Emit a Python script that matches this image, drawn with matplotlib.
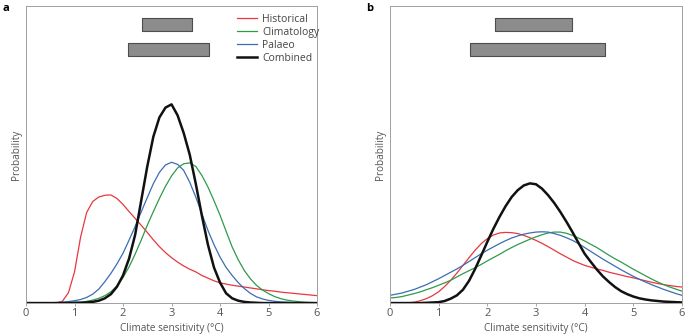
import matplotlib
matplotlib.use("Agg")
import matplotlib.pyplot as plt

plt.rcParams["font.family"] = ["Open Sans", "DejaVu Sans"]

# climate sensitivity grid (degC), 0 to 6 in steps of 1/8
sens = [i / 8 for i in range(49)]

# panel a: probability densities
hist_a = [0, 0, 0, 0, 0, 0, 0.006, 0.035, 0.105, 0.222, 0.305, 0.342, 0.357, 0.363, 0.364, 0.352,
          0.332, 0.308, 0.285, 0.262, 0.238, 0.213, 0.19, 0.17, 0.153, 0.138, 0.125, 0.114,
          0.105, 0.093, 0.084, 0.075, 0.068, 0.064, 0.06, 0.057, 0.054, 0.051, 0.048, 0.045,
          0.042, 0.04, 0.037, 0.035, 0.033, 0.031, 0.029, 0.027, 0.025]
clim_a = [0, 0, 0, 0, 0, 0, 0.001, 0.001, 0.002, 0.003, 0.006, 0.01, 0.016, 0.025, 0.038, 0.058,
          0.086, 0.122, 0.165, 0.212, 0.262, 0.308, 0.352, 0.393, 0.428, 0.455, 0.469, 0.472,
          0.46, 0.43, 0.391, 0.345, 0.296, 0.242, 0.189, 0.146, 0.11, 0.082, 0.06, 0.044,
          0.032, 0.022, 0.015, 0.01, 0.007, 0.005, 0.003, 0.002, 0.001]
palaeo_a = [0, 0, 0, 0, 0.001, 0.002, 0.003, 0.005, 0.008, 0.012, 0.019, 0.03, 0.047, 0.072,
            0.1, 0.132, 0.168, 0.212, 0.258, 0.307, 0.355, 0.402, 0.44, 0.465, 0.474, 0.467,
            0.447, 0.407, 0.357, 0.301, 0.245, 0.197, 0.155, 0.12, 0.093, 0.069, 0.049, 0.033,
            0.021, 0.014, 0.009, 0.006, 0.004, 0.003, 0.002, 0.001, 0.001, 0, 0]
comb_a = [0, 0, 0, 0, 0, 0, 0, 0, 0.001, 0.001, 0.002, 0.004, 0.008, 0.016, 0.03, 0.055,
          0.093, 0.15, 0.23, 0.345, 0.46, 0.56, 0.625, 0.658, 0.669, 0.632, 0.573, 0.5,
          0.402, 0.295, 0.197, 0.12, 0.069, 0.033, 0.016, 0.008, 0.004, 0.002, 0.001, 0,
          0, 0, 0, 0, 0, 0, 0, 0, 0]

# panel b
hist_b = [0, 0, 0, 0.001, 0.003, 0.008, 0.015, 0.025, 0.038, 0.056, 0.077, 0.101, 0.127, 0.153,
          0.178, 0.2, 0.217, 0.229, 0.236, 0.238, 0.237, 0.234, 0.228, 0.22, 0.211, 0.201,
          0.19, 0.178, 0.166, 0.155, 0.144, 0.135, 0.127, 0.121, 0.115, 0.11, 0.104, 0.099,
          0.094, 0.089, 0.085, 0.08, 0.075, 0.07, 0.066, 0.062, 0.059, 0.056, 0.054]
clim_b = [0.017, 0.019, 0.022, 0.027, 0.032, 0.038, 0.045, 0.052, 0.06, 0.068, 0.077, 0.088,
          0.099, 0.109, 0.119, 0.13, 0.142, 0.153, 0.164, 0.176, 0.187, 0.197, 0.206, 0.215,
          0.223, 0.23, 0.236, 0.239, 0.239, 0.235, 0.228, 0.219, 0.209, 0.198, 0.187, 0.174,
          0.161, 0.149, 0.138, 0.126, 0.114, 0.103, 0.092, 0.081, 0.071, 0.062, 0.054, 0.047,
          0.04]
palaeo_b = [0.026, 0.03, 0.034, 0.04, 0.046, 0.054, 0.062, 0.072, 0.082, 0.093, 0.104, 0.115,
            0.127, 0.14, 0.153, 0.166, 0.178, 0.189, 0.2, 0.21, 0.219, 0.226, 0.232, 0.236,
            0.239, 0.24, 0.239, 0.234, 0.228, 0.22, 0.211, 0.2, 0.187, 0.174, 0.161, 0.148,
            0.136, 0.124, 0.112, 0.101, 0.09, 0.08, 0.071, 0.062, 0.054, 0.046, 0.039, 0.032,
            0.026]
comb_b = [0, 0, 0, 0, 0, 0, 0.001, 0.002, 0.003, 0.007, 0.015, 0.026, 0.045, 0.075, 0.115,
          0.16, 0.206, 0.25, 0.29, 0.326, 0.357, 0.38, 0.396, 0.403, 0.4, 0.385, 0.363, 0.337,
          0.307, 0.274, 0.239, 0.202, 0.166, 0.139, 0.113, 0.09, 0.071, 0.054, 0.04, 0.03,
          0.022, 0.016, 0.012, 0.009, 0.007, 0.005, 0.004, 0.003, 0.002]

# likely ranges shown as grey bars (start, end)
ranges_a = [(2.4, 3.42), (2.1, 3.77)]
ranges_b = [(2.16, 3.75), (1.65, 4.41)]

labels = ["Historical", "Climatology", "Palaeo", "Combined"]
colors = ["#e8373e", "#2f9a4c", "#3b6db3", "#111111"]
widths = [0.9, 0.9, 0.9, 1.8]

fig = plt.figure(figsize=(6.85, 3.36), dpi=100)
ax_a = fig.add_axes([0.038, 0.098, 0.4248, 0.884])
ax_b = fig.add_axes([0.5693, 0.098, 0.4263, 0.884])

panels = [
    (ax_a, [hist_a, clim_a, palaeo_a, comb_a], ranges_a),
    (ax_b, [hist_b, clim_b, palaeo_b, comb_b], ranges_b),
]

bar_rows = [(0.916, 0.044), (0.832, 0.043)]

for ax, series, ranges in panels:
    for vals, lab, col, lw in zip(series, labels, colors, widths):
        ax.plot(sens, vals, color=col, linewidth=lw, label=lab, solid_joinstyle="round")
    for (lo, hi), (y0, h) in zip(ranges, bar_rows):
        ax.broken_barh([(lo, hi - lo)], (y0, h), facecolors="#8c8c8c",
                       edgecolors="#4d4d4d", linewidth=0.8)
    ax.set_xlim(0, 6)
    ax.set_ylim(0, 1)
    ax.set_xticks(range(7))
    ax.set_yticks([])
    ax.tick_params(axis="x", length=2.5, width=0.6, color="#999999",
                   labelsize=8, labelcolor="#555555", pad=1)
    for s in ax.spines.values():
        s.set_color("#a0a0a0")
        s.set_linewidth(0.7)
    ax.set_xlabel("Climate sensitivity (°C)", fontsize=7.2, color="#555555", labelpad=3)
    ax.set_ylabel("Probability", fontsize=7.2, color="#555555", labelpad=3)

fig.text(0.003, 0.975, "a", fontsize=8, fontweight="bold", va="center")
fig.text(0.535, 0.975, "b", fontsize=8, fontweight="bold", va="center")

ax_a.legend(loc="upper left", bbox_to_anchor=(0.705, 0.995), frameon=False, fontsize=7.5,
            handlelength=1.9, handletextpad=0.45, labelspacing=0.2, labelcolor="#444444",
            borderaxespad=0.2)

fig.savefig("out.png", dpi=100)
plt.close(fig)
